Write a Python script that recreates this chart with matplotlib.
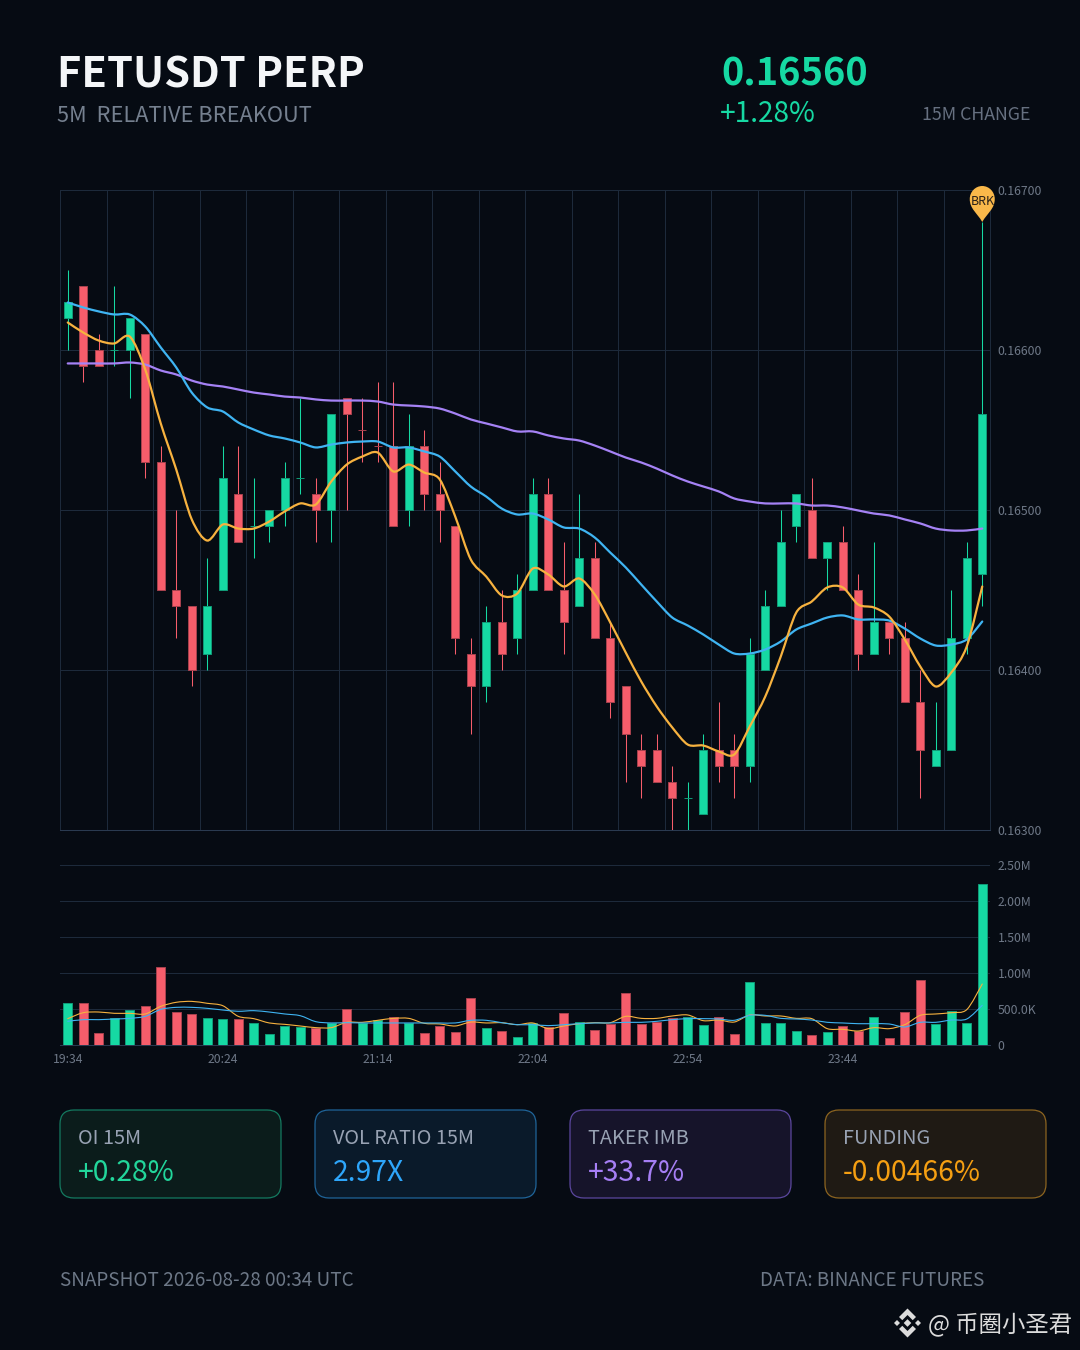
import numpy as np
import matplotlib
matplotlib.use("Agg")
import matplotlib.pyplot as plt
from matplotlib.patches import FancyBboxPatch, PathPatch, Polygon
from matplotlib.path import Path

plt.rcParams['font.family'] = ['Noto Sans CJK SC', 'DejaVu Sans']

BG = '#060b13'
GRID = '#1d2a3b'
AXIS = '#2a3a50'
TICK = '#6e7887'
UP = '#16d9a3'
DOWN = '#f65d6b'
ORANGE = '#f7b23f'
BLUE = '#3fb4f2'
PURPLE = '#a582f5'

# candles, 5m bars starting 19:34
opens = [.1662, .1664, .1660, .1660, .1660, .1661, .1653, .1645, .1644, .1641,
         .1645, .1651, .1649, .1649, .1650, .1652, .1651, .1650, .1657, .1655,
         .1654, .1654, .1650, .1654, .1651, .1649, .1641, .1639, .1643, .1642,
         .1645, .1651, .1645, .1644, .1647, .1642, .1639, .1635, .1635, .1633,
         .1632, .1631, .1635, .1635, .1634, .1640, .1644, .1649, .1650, .1647,
         .1648, .1645, .1641, .1643, .1642, .1638, .1634, .1635, .1642, .1646]
closes = [.1663, .1659, .1659, .1660, .1662, .1653, .1645, .1644, .1640, .1644,
          .1652, .1648, .1649, .1650, .1652, .1652, .1650, .1656, .1656, .1655,
          .1654, .1649, .1654, .1651, .1650, .1642, .1639, .1643, .1641, .1645,
          .1651, .1645, .1643, .1647, .1642, .1638, .1636, .1634, .1633, .1632,
          .1632, .1635, .1634, .1634, .1641, .1644, .1648, .1651, .1647, .1648,
          .1645, .1641, .1643, .1642, .1638, .1635, .1635, .1642, .1647, .1656]
highs = [.1665, .1664, .1661, .1664, .1662, .1661, .1654, .1650, .1644, .1647,
         .1654, .1654, .1652, .1650, .1653, .1657, .1652, .1656, .1657, .1657,
         .1658, .1658, .1656, .1655, .1653, .1649, .1642, .1644, .1645, .1646,
         .1652, .1652, .1648, .1651, .1648, .1643, .1639, .1636, .1636, .1634,
         .1633, .1636, .1638, .1636, .1642, .1645, .1650, .1651, .1652, .1648,
         .1649, .1646, .1648, .1643, .1643, .1640, .1638, .1645, .1648, .1668]
lows = [.1660, .1658, .1659, .1659, .1657, .1652, .1645, .1642, .1639, .1640,
        .1645, .1648, .1647, .1648, .1649, .1651, .1648, .1648, .1650, .1653,
        .1653, .1649, .1649, .1650, .1648, .1641, .1636, .1638, .1640, .1641,
        .1645, .1645, .1641, .1644, .1642, .1637, .1633, .1632, .1633, .1630,
        .1630, .1631, .1633, .1632, .1633, .1640, .1644, .1648, .1647, .1645,
        .1645, .1640, .1641, .1641, .1638, .1632, .1634, .1635, .1641, .1644]

ema_fast = [.166172, .166109, .166059, .166041, .166084, .165878, .165541, .165253, .164941, .164809,
            .164909, .164884, .164884, .164928, .164991, .165041, .165034, .165178, .165284, .165334,
            .165359, .165241, .165284, .165234, .165191, .164959, .164691, .164584, .164466, .164478,
            .164634, .164597, .164522, .164572, .164472, .164297, .164109, .163928, .163772, .163641,
            .163534, .163528, .163491, .163472, .163647, .163834, .164084, .164359, .164428, .164516,
            .164516, .164409, .164391, .164334, .164191, .164022, .163897, .163984, .164147, .164522]
ema_mid = [.166297, .166266, .166241, .166222, .166222, .166147, .166016, .165891, .165734, .165641,
           .165616, .165547, .165503, .165466, .165447, .165422, .165391, .165409, .165422, .165428,
           .165428, .165391, .165391, .165366, .165334, .165241, .165147, .165084, .165009, .164972,
           .164978, .164941, .164891, .164884, .164828, .164734, .164641, .164534, .164428, .164328,
           .164278, .164222, .164159, .164103, .164103, .164128, .164178, .164253, .164291, .164328,
           .164341, .164316, .164316, .164309, .164259, .164197, .164153, .164159, .164191, .164303]
ema_slow = [.165916, .165916, .165916, .165916, .165922, .165909, .165872, .165847, .165809, .165784,
            .165772, .165753, .165734, .165722, .165709, .165703, .165691, .165684, .165684, .165684,
            .165678, .165659, .165653, .165647, .165634, .165603, .165566, .165541, .165516, .165491,
            .165491, .165466, .165447, .165434, .165403, .165366, .165328, .165297, .165259, .165216,
            .165178, .165147, .165116, .165072, .165053, .165041, .165041, .165041, .165028, .165028,
            .165016, .164997, .164978, .164966, .164941, .164916, .164884, .164872, .164872, .164884]

volumes = [.583, .583, .167, .375, .481, .546, 1.079, .463, .435, .375,
           .366, .356, .301, .153, .269, .245, .241, .306, .500, .306,
           .352, .389, .301, .167, .269, .185, .657, .241, .199, .106,
           .306, .250, .444, .319, .213, .296, .722, .292, .315, .375,
           .384, .278, .384, .153, .875, .310, .306, .190, .144, .181,
           .269, .194, .394, .097, .463, .907, .296, .477, .310, 2.236]
vol_fast = [.366, .449, .458, .440, .440, .431, .537, .593, .606, .579,
            .546, .398, .366, .306, .287, .264, .241, .241, .315, .315,
            .343, .370, .370, .301, .292, .264, .319, .306, .310, .282,
            .306, .227, .264, .296, .310, .310, .398, .370, .370, .403,
            .417, .338, .347, .319, .417, .403, .403, .370, .366, .227,
            .218, .194, .241, .227, .282, .412, .431, .449, .491, .847]
vol_slow = [.329, .352, .352, .361, .370, .398, .495, .523, .523, .509,
            .486, .468, .477, .458, .431, .407, .324, .306, .310, .306,
            .306, .306, .306, .306, .306, .306, .343, .343, .310, .282,
            .282, .269, .282, .296, .306, .306, .315, .315, .329, .352,
            .366, .366, .361, .343, .412, .412, .370, .361, .347, .315,
            .306, .296, .296, .292, .250, .315, .315, .347, .361, .551]

price_ticks = [.1630, .1640, .1650, .1660, .1670]
vol_ticks = [0, .5, 1.0, 1.5, 2.0, 2.5]
vol_labels = ['0', '500.0K', '1.00M', '1.50M', '2.00M', '2.50M']
time_labels = ['19:34', '20:24', '21:14', '22:04', '22:54', '23:44']

cards = [('OI 15M', '+0.28%', '#22d69b', '#0b1c1b', '#147a60'),
         ('VOL RATIO 15M', '2.97X', '#2ea6fb', '#0a1a2a', '#1f6499'),
         ('TAKER IMB', '+33.7%', '#a67ff5', '#16142a', '#5b479e'),
         ('FUNDING', '-0.00466%', '#f59f12', '#1f1a14', '#8c6420')]


def smooth_path(xs, ys, k=0.15):
    # bezier through the points, same idea as a smooth line in echarts
    n = len(xs)
    verts = [(xs[0], ys[0])]
    codes = [Path.MOVETO]
    for i in range(n - 1):
        a = max(i - 1, 0)
        b = min(i + 2, n - 1)
        verts.append((xs[i] + (xs[i + 1] - xs[a]) * k, ys[i] + (ys[i + 1] - ys[a]) * k))
        verts.append((xs[i + 1] - (xs[b] - xs[i]) * k, ys[i + 1] - (ys[b] - ys[i]) * k))
        verts.append((xs[i + 1], ys[i + 1]))
        codes += [Path.CURVE4] * 3
    return Path(verts, codes)


def add_line(ax, values, color, lw, alpha=1.0):
    xs = list(range(len(values)))
    ax.add_patch(PathPatch(smooth_path(xs, values), fc='none', ec=color, lw=lw,
                           alpha=alpha, zorder=5, capstyle='round'))


fig = plt.figure(figsize=(10.8, 13.5), dpi=100, facecolor=BG)
W, H = 1080, 1350


def px_axes(left, top, right, bottom):
    return fig.add_axes([left / W, 1 - bottom / H, (right - left) / W, (bottom - top) / H], facecolor=BG)


ax = px_axes(60, 190, 990, 830)
vax = px_axes(60, 865, 990, 1045)
x = np.arange(len(opens))

# candle direction, a flat bar follows the previous close
rising = []
for i in x:
    if closes[i] != opens[i]:
        rising.append(closes[i] > opens[i])
    else:
        rising.append(i == 0 or closes[i - 1] <= closes[i])
colors = [UP if r else DOWN for r in rising]
edges = ['#119c78' if r else '#a8424e' for r in rising]

ax.vlines(x, lows, highs, colors=colors, lw=0.75, zorder=3)
bottoms = np.minimum(opens, closes)
heights = np.abs(np.array(closes) - np.array(opens))
ax.bar(x, heights, bottom=bottoms, width=0.5, color=colors, edgecolor=edges, lw=0.7, zorder=4)

add_line(ax, ema_slow, PURPLE, 1.6)
add_line(ax, ema_mid, BLUE, 1.6)
add_line(ax, ema_fast, ORANGE, 1.6)

ax.set_xlim(-0.5, 59.5)
ax.set_ylim(.1630, .1670)
ax.set_xticks(np.arange(0, 61, 3) - 0.5)
ax.set_xticklabels([])
ax.yaxis.tick_right()
ax.set_yticks(price_ticks)
ax.set_yticklabels(['%.5f' % p for p in price_ticks])
ax.tick_params(axis='both', length=0)
ax.tick_params(axis='y', labelsize=8.8, labelcolor=TICK, pad=5.5)
ax.grid(True, color=GRID, lw=0.75, zorder=0)
ax.set_axisbelow(True)
for name, s in ax.spines.items():
    s.set_color(AXIS if name == 'bottom' else GRID)
    s.set_linewidth(0.75)

# volume panel, bars coloured on close >= open
vol_colors = [UP if c >= o else DOWN for o, c in zip(opens, closes)]
vol_edges = ['#119c78' if c >= o else '#a8424e' for o, c in zip(opens, closes)]
vax.bar(x, volumes, width=0.56, color=vol_colors, edgecolor=vol_edges, lw=0.7, zorder=3)
add_line(vax, vol_fast, ORANGE, 0.8)
add_line(vax, vol_slow, BLUE, 0.8)
vax.set_xlim(-0.5, 59.5)
vax.set_ylim(0, 2.5)
vax.set_xticks(x[::10])
vax.set_xticklabels(time_labels)
vax.yaxis.tick_right()
vax.set_yticks(vol_ticks)
vax.set_yticklabels(vol_labels)
vax.tick_params(axis='both', length=0, labelsize=8.8, labelcolor=TICK)
vax.tick_params(axis='y', pad=5.5)
vax.tick_params(axis='x', pad=6)
vax.grid(True, axis='y', color=GRID, lw=0.75, zorder=0)
vax.set_axisbelow(True)
for name, s in vax.spines.items():
    s.set_visible(name == 'bottom')
    s.set_color(AXIS)
    s.set_linewidth(0.75)

# overlay in pixels for header, cards, footer
ov = fig.add_axes([0, 0, 1, 1], facecolor='none')
ov.set_xlim(0, W)
ov.set_ylim(H, 0)
ov.axis('off')

ov.text(57, 76, 'FETUSDT PERP', color='#f4f6f8', fontsize=30, fontweight='bold', va='center')
ov.text(57, 116.5, '5M  RELATIVE BREAKOUT', color='#75808f', fontsize=15.7, va='center')
ov.text(721, 74, '0.16560', color=UP, fontsize=27.3, fontweight='bold', va='center')
ov.text(720, 114, '+1.28%', color=UP, fontsize=20.2, va='center')
ov.text(1030, 115, '15M CHANGE', color='#667080', fontsize=12.8, va='center', ha='right')

for i, (label, value, col, face, edge) in enumerate(cards):
    left = 60 + 255 * i
    ov.add_patch(FancyBboxPatch((left + 14, 1110 + 14), 221 - 28, 88 - 28, boxstyle='round,pad=14,rounding_size=14',
                                fc=face, ec=edge, lw=0.9))
    ov.text(left + 18, 1139, label, color='#98a2b3', fontsize=14.3, va='center')
    ov.text(left + 18, 1173, value, color=col, fontsize=20.4, va='center')

ov.text(60, 1280.5, 'SNAPSHOT 2026-08-28 00:34 UTC', color='#6d7887', fontsize=13.65, va='center')
ov.text(760, 1280.5, 'DATA: BINANCE FUTURES', color='#6d7887', fontsize=13.6, va='center')

# breakout pin sits on the high of the last candle
fig.canvas.draw()
tx, ty = ax.transData.transform((x[-1], highs[-1]))
ty = H - ty
pin = Path([(tx, ty), (tx - 5, ty - 9), (tx - 12.5, ty - 13), (tx - 12.5, ty - 23),
            (tx - 12.5, ty - 30), (tx - 7, ty - 36), (tx, ty - 36),
            (tx + 7, ty - 36), (tx + 12.5, ty - 30), (tx + 12.5, ty - 23),
            (tx + 12.5, ty - 13), (tx + 5, ty - 9), (tx, ty)],
           [Path.MOVETO] + [Path.CURVE4] * 12)
ov.add_patch(PathPatch(pin, fc='#f9b84a', ec='none', zorder=6))
ov.text(tx + 0.5, ty - 20.5, 'BRK', color='#2a2118', fontsize=8.9, ha='center', va='center', zorder=7)

# watermark
lx, ly = 907.5, 1323
mark = '#dcdcdc'
for dx, dy, r in [(0, 0, 3.8), (-10.5, 0, 3.0), (10.5, 0, 3.0)]:
    ov.add_patch(Polygon([(lx + dx - r, ly + dy), (lx + dx, ly + dy - r), (lx + dx + r, ly + dy), (lx + dx, ly + dy + r)],
                         fc=mark, ec='none'))
for sign in (-1, 1):
    ov.add_patch(Polygon([(lx, ly + sign * 14.5), (lx + 8.5, ly + sign * 6), (lx + 5.2, ly + sign * 2.8), (lx, ly + sign * 8),
                          (lx - 5.2, ly + sign * 2.8), (lx - 8.5, ly + sign * 6)], fc=mark, ec='none'))
ov.text(927.5, 1324, '@ 币圈小圣君', color=mark, fontsize=16.8, va='center')

fig.savefig('out.png', dpi=100, facecolor=BG)
